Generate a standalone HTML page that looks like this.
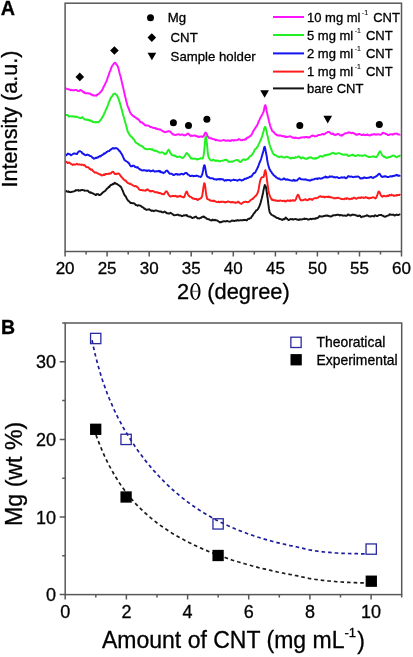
<!DOCTYPE html><html><head><meta charset="utf-8"><style>html,body{margin:0;padding:0;background:#fff;width:413px;height:657px;overflow:hidden}svg{display:block;filter:blur(0.3px)} text{stroke:#000;stroke-width:0.3px}</style></head><body><svg width="413" height="657" viewBox="0 0 413 657">
<rect width="413" height="657" fill="#fff"/>
<g font-family="Liberation Sans, sans-serif" fill="#000">
<text x="0.8" y="15" font-size="19.8" font-weight="bold">A</text>
<text x="1" y="334" font-size="19.5" font-weight="bold">B</text>
</g>
<path d="M65.6,190.6 66.2,191.1 66.8,191.6 67.4,191.6 68.0,191.8 68.6,191.3 69.2,192.1 69.8,192.0 70.4,192.1 71.0,192.2 71.6,191.9 72.2,191.7 72.8,191.6 73.4,191.5 74.0,191.3 74.6,191.0 75.2,190.9 75.8,190.1 76.4,190.4 77.0,190.3 77.6,190.3 78.2,190.1 78.8,190.7 79.4,190.4 80.0,190.4 80.6,190.5 81.2,189.9 81.8,190.0 82.4,189.9 83.0,190.2 83.6,190.4 84.2,190.3 84.8,190.8 85.4,190.6 86.0,190.6 86.6,190.6 87.2,190.8 87.8,190.7 88.4,191.4 89.0,192.1 89.6,192.1 90.2,192.8 90.8,192.3 91.4,192.8 92.0,193.0 92.6,193.3 93.2,193.5 93.8,193.9 94.4,194.3 95.0,194.4 95.6,194.9 96.2,194.9 96.8,194.1 97.4,194.3 98.0,194.1 98.6,194.3 99.2,195.1 99.8,195.0 100.4,194.8 101.0,194.4 101.6,193.4 102.2,193.3 102.8,192.4 103.4,192.1 104.0,191.6 104.6,191.3 105.2,190.9 105.8,190.1 106.4,189.5 107.0,188.6 107.6,188.2 108.2,187.8 108.8,186.8 109.4,187.0 110.0,185.8 110.6,185.0 111.2,185.0 111.8,184.8 112.4,184.1 113.0,183.8 113.6,184.2 114.2,183.3 114.8,182.8 115.4,183.1 116.0,183.8 116.6,183.8 117.2,184.1 117.8,184.6 118.4,185.0 119.0,185.3 119.6,185.6 120.2,186.5 120.8,186.7 121.4,187.6 122.0,189.1 122.6,190.4 123.2,192.0 123.8,193.5 124.4,194.8 125.0,195.8 125.6,196.1 126.2,197.4 126.8,198.7 127.4,199.6 128.0,200.3 128.6,201.1 129.2,201.4 129.8,202.0 130.4,202.9 131.0,202.9 131.6,202.9 132.2,203.1 132.8,203.3 133.4,203.3 134.0,203.3 134.6,203.6 135.2,204.3 135.8,205.0 136.4,205.0 137.0,205.3 137.6,205.8 138.2,205.2 138.8,205.3 139.4,205.4 140.0,205.6 140.6,205.9 141.2,206.2 141.8,206.9 142.4,207.1 143.0,207.4 143.6,207.8 144.2,208.8 144.8,208.6 145.4,209.3 146.0,209.7 146.6,209.9 147.2,209.7 147.8,209.5 148.4,209.5 149.0,209.3 149.6,209.4 150.2,210.3 150.8,210.2 151.4,210.9 152.0,210.6 152.6,210.5 153.2,210.9 153.8,211.2 154.4,210.7 155.0,210.6 155.6,210.4 156.2,210.5 156.8,210.7 157.4,210.9 158.0,211.1 158.6,211.2 159.2,211.5 159.8,211.5 160.4,211.4 161.0,211.4 161.6,212.1 162.2,212.3 162.8,212.2 163.4,212.3 164.0,212.0 164.6,211.6 165.2,211.8 165.8,212.5 166.4,212.7 167.0,213.3 167.6,213.4 168.2,213.3 168.8,213.5 169.4,213.6 170.0,213.1 170.6,212.8 171.2,213.3 171.8,213.6 172.4,214.0 173.0,214.5 173.6,215.1 174.2,215.2 174.8,215.2 175.4,215.1 176.0,215.0 176.6,214.8 177.2,214.8 177.8,214.8 178.4,214.8 179.0,215.4 179.6,215.4 180.2,215.3 180.8,215.6 181.4,215.6 182.0,216.2 182.6,216.0 183.2,215.7 183.8,215.3 184.4,215.3 185.0,215.5 185.6,215.2 186.2,215.4 186.8,215.0 187.4,215.9 188.0,216.4 188.6,216.5 189.2,216.5 189.8,216.8 190.4,216.6 191.0,217.0 191.6,217.6 192.2,218.1 192.8,218.0 193.4,217.7 194.0,217.5 194.6,217.3 195.2,216.8 195.8,216.5 196.4,217.2 197.0,217.6 197.6,218.2 198.2,218.3 198.8,218.4 199.4,218.5 200.0,218.2 200.6,217.7 201.2,217.7 201.8,217.1 202.4,216.8 203.0,216.9 203.6,216.4 204.2,216.6 204.8,217.5 205.4,217.6 206.0,218.1 206.6,218.6 207.2,219.1 207.8,219.1 208.4,219.3 209.0,219.2 209.6,219.8 210.2,220.2 210.8,220.2 211.4,220.3 212.0,220.5 212.6,219.5 213.2,220.0 213.8,220.2 214.4,220.3 215.0,219.8 215.6,220.2 216.2,220.3 216.8,220.4 217.4,220.6 218.0,221.0 218.6,221.5 219.2,221.8 219.8,222.4 220.4,222.1 221.0,222.3 221.6,221.8 222.2,221.8 222.8,221.5 223.4,221.3 224.0,221.2 224.6,221.3 225.2,221.4 225.8,221.4 226.4,221.1 227.0,220.9 227.6,221.2 228.2,221.4 228.8,221.5 229.4,221.6 230.0,221.7 230.6,221.4 231.2,221.0 231.8,220.6 232.4,220.8 233.0,220.5 233.6,220.9 234.2,221.1 234.8,220.8 235.4,220.8 236.0,220.4 236.6,220.7 237.2,220.4 237.8,220.1 238.4,220.6 239.0,220.6 239.6,220.4 240.2,220.3 240.8,220.3 241.4,220.2 242.0,220.2 242.6,220.1 243.2,220.2 243.8,219.9 244.4,219.8 245.0,220.1 245.6,220.0 246.2,220.1 246.8,220.4 247.4,219.6 248.0,219.1 248.6,218.7 249.2,218.9 249.8,218.6 250.4,218.1 251.0,218.0 251.6,216.8 252.2,215.9 252.8,215.4 253.4,214.1 254.0,213.4 254.6,212.8 255.2,211.9 255.8,210.9 256.4,210.3 257.0,210.1 257.6,209.4 258.2,208.6 258.8,207.6 259.4,206.2 260.0,204.7 260.6,202.8 261.2,200.5 261.8,198.3 262.4,195.7 263.0,193.0 263.6,189.7 264.2,187.1 264.8,185.0 265.4,185.8 266.0,187.4 266.6,191.0 267.2,195.5 267.8,199.3 268.4,204.5 269.0,208.9 269.6,211.8 270.2,213.2 270.8,213.7 271.4,214.6 272.0,215.0 272.6,215.3 273.2,215.5 273.8,215.9 274.4,216.5 275.0,216.5 275.6,217.0 276.2,217.7 276.8,217.9 277.4,217.9 278.0,218.1 278.6,218.1 279.2,219.0 279.8,219.0 280.4,219.0 281.0,219.3 281.6,219.5 282.2,219.9 282.8,219.5 283.4,219.0 284.0,219.5 284.6,219.2 285.2,218.2 285.8,217.5 286.4,218.3 287.0,218.6 287.6,219.4 288.2,219.7 288.8,220.1 289.4,219.8 290.0,219.3 290.6,219.0 291.2,219.1 291.8,219.3 292.4,219.0 293.0,219.7 293.6,219.4 294.2,219.3 294.8,219.1 295.4,219.0 296.0,219.1 296.6,219.6 297.2,219.4 297.8,219.5 298.4,219.9 299.0,219.7 299.6,219.9 300.2,219.3 300.8,219.4 301.4,219.5 302.0,219.5 302.6,219.1 303.2,219.1 303.8,219.0 304.4,218.4 305.0,218.9 305.6,218.9 306.2,218.8 306.8,218.9 307.4,219.3 308.0,219.5 308.6,219.4 309.2,219.4 309.8,219.1 310.4,218.8 311.0,218.9 311.6,219.3 312.2,218.9 312.8,218.8 313.4,218.7 314.0,218.8 314.6,218.8 315.2,218.9 315.8,218.3 316.4,218.4 317.0,218.0 317.6,218.0 318.2,217.5 318.8,216.8 319.4,216.1 320.0,216.6 320.6,216.5 321.2,216.5 321.8,216.4 322.4,216.4 323.0,216.4 323.6,216.0 324.2,216.1 324.8,215.8 325.4,215.5 326.0,215.8 326.6,215.5 327.2,215.8 327.8,215.4 328.4,215.9 329.0,216.2 329.6,216.1 330.2,216.4 330.8,216.6 331.4,216.3 332.0,216.2 332.6,215.4 333.2,215.3 333.8,215.4 334.4,215.2 335.0,215.2 335.6,215.3 336.2,214.9 336.8,215.0 337.4,214.6 338.0,214.6 338.6,214.9 339.2,214.9 339.8,215.4 340.4,214.9 341.0,215.1 341.6,215.2 342.2,215.3 342.8,215.6 343.4,215.7 344.0,215.5 344.6,215.4 345.2,215.8 345.8,215.7 346.4,215.8 347.0,215.5 347.6,214.8 348.2,214.4 348.8,214.7 349.4,215.3 350.0,215.4 350.6,215.6 351.2,215.2 351.8,215.0 352.4,214.6 353.0,214.7 353.6,214.9 354.2,214.8 354.8,214.9 355.4,215.1 356.0,215.6 356.6,215.4 357.2,215.8 357.8,216.1 358.4,216.0 359.0,215.4 359.6,215.8 360.2,215.7 360.8,216.9 361.4,217.2 362.0,216.8 362.6,216.5 363.2,216.5 363.8,216.5 364.4,216.3 365.0,216.0 365.6,215.9 366.2,215.8 366.8,215.2 367.4,215.4 368.0,215.6 368.6,216.2 369.2,216.2 369.8,216.5 370.4,216.3 371.0,216.6 371.6,216.1 372.2,216.0 372.8,216.1 373.4,216.2 374.0,216.5 374.6,215.5 375.2,215.3 375.8,215.6 376.4,216.1 377.0,215.9 377.6,216.0 378.2,215.6 378.8,215.1 379.4,215.1 380.0,215.0 380.6,215.1 381.2,214.9 381.8,215.3 382.4,215.7 383.0,215.8 383.6,216.3 384.2,216.4 384.8,216.8 385.4,216.8 386.0,216.4 386.6,216.0 387.2,215.9 387.8,215.7 388.4,215.4 389.0,215.3 389.6,214.2 390.2,214.4 390.8,214.7 391.4,214.8 392.0,214.7 392.6,214.7 393.2,214.6 393.8,215.1 394.4,215.6 395.0,215.5 395.6,215.2 396.2,214.7 396.8,214.6 397.4,214.9 398.0,215.1 398.6,214.8 399.2,214.6 399.8,214.3 400.4,214.1" fill="none" stroke="#141414" stroke-width="1.95" stroke-linejoin="round"/>
<path d="M65.6,161.6 66.2,161.6 66.8,162.3 67.4,162.9 68.0,162.9 68.6,162.6 69.2,162.4 69.8,162.9 70.4,163.5 71.0,163.9 71.6,164.3 72.2,164.5 72.8,164.9 73.4,164.5 74.0,164.5 74.6,164.5 75.2,164.7 75.8,164.4 76.4,164.2 77.0,163.7 77.6,164.3 78.2,164.5 78.8,164.6 79.4,164.3 80.0,164.6 80.6,164.6 81.2,164.9 81.8,164.6 82.4,164.7 83.0,164.8 83.6,165.2 84.2,165.1 84.8,165.6 85.4,166.1 86.0,166.8 86.6,167.1 87.2,167.3 87.8,167.0 88.4,167.5 89.0,167.8 89.6,169.0 90.2,168.9 90.8,169.7 91.4,169.7 92.0,169.5 92.6,170.6 93.2,171.2 93.8,171.5 94.4,172.5 95.0,172.5 95.6,172.7 96.2,172.5 96.8,172.9 97.4,173.3 98.0,173.5 98.6,173.8 99.2,174.2 99.8,174.3 100.4,174.8 101.0,174.5 101.6,175.5 102.2,175.3 102.8,175.3 103.4,175.1 104.0,174.4 104.6,174.9 105.2,174.0 105.8,174.2 106.4,174.0 107.0,174.2 107.6,174.0 108.2,173.7 108.8,174.0 109.4,173.4 110.0,173.7 110.6,173.3 111.2,173.2 111.8,172.3 112.4,171.9 113.0,171.8 113.6,172.3 114.2,173.1 114.8,174.0 115.4,174.0 116.0,174.2 116.6,173.8 117.2,173.8 117.8,173.7 118.4,173.4 119.0,173.8 119.6,174.4 120.2,175.3 120.8,176.2 121.4,176.8 122.0,177.5 122.6,178.0 123.2,179.0 123.8,179.7 124.4,179.9 125.0,180.5 125.6,180.5 126.2,181.2 126.8,182.3 127.4,182.4 128.0,183.1 128.6,183.3 129.2,183.4 129.8,183.9 130.4,183.8 131.0,184.3 131.6,184.4 132.2,185.0 132.8,185.3 133.4,185.6 134.0,185.9 134.6,186.2 135.2,186.1 135.8,185.9 136.4,186.5 137.0,187.0 137.6,187.2 138.2,188.0 138.8,189.1 139.4,189.6 140.0,190.0 140.6,190.0 141.2,190.0 141.8,190.1 142.4,190.4 143.0,190.3 143.6,190.3 144.2,190.6 144.8,190.6 145.4,190.7 146.0,190.0 146.6,190.3 147.2,189.3 147.8,189.5 148.4,190.2 149.0,190.4 149.6,191.0 150.2,191.4 150.8,190.9 151.4,191.3 152.0,191.0 152.6,191.0 153.2,191.2 153.8,191.4 154.4,191.9 155.0,192.2 155.6,192.3 156.2,192.2 156.8,192.5 157.4,192.2 158.0,192.6 158.6,193.1 159.2,193.2 159.8,192.9 160.4,193.2 161.0,193.5 161.6,193.7 162.2,194.2 162.8,194.0 163.4,194.3 164.0,194.3 164.6,193.2 165.2,192.3 165.8,191.5 166.4,191.3 167.0,191.6 167.6,192.7 168.2,194.0 168.8,195.1 169.4,195.6 170.0,196.5 170.6,196.4 171.2,196.4 171.8,196.2 172.4,195.7 173.0,196.1 173.6,196.0 174.2,195.9 174.8,196.3 175.4,195.8 176.0,196.0 176.6,196.5 177.2,196.9 177.8,196.2 178.4,196.3 179.0,196.5 179.6,196.2 180.2,195.7 180.8,196.5 181.4,196.5 182.0,196.8 182.6,197.0 183.2,197.3 183.8,197.4 184.4,196.6 185.0,195.0 185.6,193.3 186.2,192.0 186.8,191.5 187.4,192.8 188.0,194.3 188.6,195.7 189.2,195.8 189.8,196.8 190.4,196.9 191.0,197.0 191.6,197.7 192.2,197.7 192.8,198.6 193.4,198.6 194.0,198.5 194.6,199.0 195.2,198.9 195.8,199.0 196.4,198.8 197.0,199.6 197.6,200.0 198.2,199.9 198.8,199.0 199.4,199.0 200.0,198.6 200.6,198.3 201.2,197.9 201.8,196.9 202.4,194.7 203.0,190.7 203.6,186.1 204.2,183.2 204.8,183.8 205.4,187.9 206.0,193.1 206.6,196.6 207.2,199.0 207.8,199.0 208.4,199.5 209.0,199.7 209.6,199.8 210.2,200.6 210.8,200.7 211.4,200.7 212.0,200.7 212.6,201.0 213.2,201.2 213.8,200.6 214.4,201.1 215.0,201.2 215.6,201.5 216.2,201.9 216.8,202.1 217.4,202.0 218.0,202.0 218.6,201.6 219.2,202.2 219.8,202.2 220.4,202.0 221.0,201.7 221.6,201.9 222.2,201.7 222.8,201.8 223.4,201.8 224.0,202.1 224.6,202.0 225.2,202.5 225.8,202.3 226.4,201.9 227.0,201.9 227.6,201.4 228.2,201.5 228.8,201.7 229.4,202.0 230.0,202.2 230.6,202.3 231.2,202.1 231.8,202.4 232.4,202.0 233.0,202.1 233.6,202.4 234.2,202.6 234.8,202.2 235.4,202.9 236.0,202.6 236.6,202.6 237.2,202.5 237.8,201.7 238.4,201.8 239.0,202.3 239.6,203.0 240.2,203.3 240.8,203.7 241.4,204.0 242.0,203.2 242.6,202.8 243.2,202.5 243.8,201.9 244.4,202.1 245.0,201.9 245.6,201.6 246.2,201.8 246.8,202.0 247.4,202.2 248.0,202.2 248.6,201.9 249.2,201.4 249.8,200.9 250.4,200.3 251.0,199.9 251.6,199.5 252.2,199.0 252.8,199.0 253.4,197.9 254.0,197.7 254.6,196.7 255.2,196.3 255.8,195.9 256.4,194.9 257.0,194.3 257.6,192.8 258.2,191.5 258.8,188.4 259.4,184.6 260.0,181.4 260.6,179.6 261.2,178.1 261.8,177.4 262.4,177.1 263.0,177.1 263.6,177.0 264.2,174.8 264.8,171.4 265.4,170.1 266.0,172.8 266.6,176.9 267.2,181.6 267.8,186.2 268.4,190.4 269.0,193.2 269.6,195.1 270.2,196.6 270.8,197.9 271.4,199.1 272.0,199.9 272.6,199.5 273.2,200.2 273.8,200.1 274.4,200.2 275.0,200.5 275.6,200.7 276.2,200.4 276.8,200.5 277.4,201.1 278.0,201.0 278.6,200.7 279.2,200.9 279.8,200.6 280.4,200.5 281.0,200.7 281.6,200.9 282.2,201.0 282.8,201.0 283.4,200.8 284.0,200.8 284.6,200.8 285.2,201.6 285.8,201.4 286.4,200.9 287.0,200.5 287.6,200.5 288.2,200.5 288.8,200.8 289.4,200.5 290.0,201.1 290.6,200.3 291.2,200.6 291.8,200.8 292.4,200.5 293.0,200.0 293.6,200.5 294.2,200.8 294.8,200.6 295.4,199.8 296.0,199.3 296.6,197.1 297.2,195.9 297.8,194.7 298.4,195.0 299.0,196.3 299.6,198.2 300.2,199.3 300.8,200.2 301.4,200.5 302.0,200.2 302.6,200.3 303.2,200.3 303.8,199.9 304.4,199.6 305.0,199.3 305.6,199.2 306.2,199.9 306.8,200.3 307.4,200.2 308.0,200.0 308.6,199.5 309.2,198.8 309.8,199.4 310.4,199.3 311.0,199.0 311.6,199.5 312.2,199.9 312.8,199.2 313.4,198.8 314.0,198.5 314.6,198.2 315.2,198.1 315.8,198.1 316.4,198.3 317.0,198.0 317.6,197.8 318.2,197.5 318.8,196.9 319.4,196.7 320.0,196.3 320.6,196.2 321.2,196.9 321.8,196.7 322.4,196.9 323.0,196.7 323.6,196.6 324.2,197.3 324.8,196.7 325.4,197.2 326.0,196.9 326.6,196.8 327.2,196.9 327.8,196.9 328.4,196.5 329.0,197.2 329.6,196.7 330.2,197.3 330.8,197.2 331.4,197.2 332.0,197.6 332.6,197.6 333.2,198.0 333.8,198.3 334.4,198.3 335.0,198.1 335.6,198.2 336.2,197.9 336.8,198.2 337.4,197.8 338.0,197.7 338.6,198.0 339.2,198.1 339.8,198.4 340.4,198.6 341.0,198.9 341.6,199.0 342.2,199.0 342.8,199.1 343.4,199.1 344.0,199.2 344.6,198.6 345.2,198.7 345.8,198.5 346.4,198.9 347.0,198.1 347.6,198.5 348.2,198.6 348.8,198.6 349.4,199.2 350.0,199.2 350.6,198.9 351.2,198.6 351.8,198.9 352.4,198.4 353.0,198.4 353.6,197.7 354.2,197.7 354.8,197.8 355.4,198.6 356.0,198.6 356.6,198.7 357.2,198.3 357.8,197.8 358.4,197.6 359.0,197.7 359.6,197.9 360.2,197.5 360.8,198.0 361.4,197.3 362.0,197.4 362.6,197.5 363.2,197.4 363.8,198.0 364.4,197.8 365.0,197.6 365.6,197.1 366.2,197.3 366.8,197.5 367.4,198.1 368.0,197.8 368.6,198.4 369.2,198.5 369.8,198.1 370.4,197.8 371.0,198.0 371.6,197.6 372.2,197.5 372.8,197.3 373.4,197.4 374.0,197.5 374.6,197.6 375.2,198.5 375.8,198.1 376.4,197.5 377.0,195.7 377.6,194.3 378.2,192.2 378.8,191.5 379.4,192.0 380.0,193.1 380.6,194.7 381.2,195.8 381.8,196.1 382.4,196.7 383.0,196.1 383.6,195.8 384.2,195.8 384.8,196.1 385.4,196.3 386.0,196.3 386.6,196.2 387.2,195.6 387.8,196.0 388.4,196.0 389.0,195.3 389.6,194.9 390.2,195.4 390.8,195.3 391.4,194.6 392.0,195.3 392.6,195.1 393.2,195.1 393.8,195.9 394.4,195.8 395.0,195.5 395.6,195.4 396.2,195.7 396.8,195.0 397.4,195.3 398.0,194.8 398.6,195.1 399.2,194.9 399.8,194.7 400.4,195.2" fill="none" stroke="#ff1c1c" stroke-width="1.95" stroke-linejoin="round"/>
<path d="M65.6,155.2 66.2,155.3 66.8,154.8 67.4,154.0 68.0,153.6 68.6,153.9 69.2,154.3 69.8,154.2 70.4,154.8 71.0,155.3 71.6,154.8 72.2,154.5 72.8,154.1 73.4,153.7 74.0,153.5 74.6,153.4 75.2,153.8 75.8,153.7 76.4,154.0 77.0,154.0 77.6,152.9 78.2,152.0 78.8,151.6 79.4,151.1 80.0,151.1 80.6,151.5 81.2,151.8 81.8,152.4 82.4,153.5 83.0,153.5 83.6,154.2 84.2,154.3 84.8,154.9 85.4,155.2 86.0,155.2 86.6,155.0 87.2,154.5 87.8,154.8 88.4,154.9 89.0,155.3 89.6,155.9 90.2,156.0 90.8,156.2 91.4,156.5 92.0,157.0 92.6,157.8 93.2,158.0 93.8,158.7 94.4,158.6 95.0,158.3 95.6,157.8 96.2,157.9 96.8,157.9 97.4,157.2 98.0,157.4 98.6,157.0 99.2,156.4 99.8,156.1 100.4,156.4 101.0,155.9 101.6,155.2 102.2,155.1 102.8,154.7 103.4,154.2 104.0,153.4 104.6,153.7 105.2,153.2 105.8,152.9 106.4,152.2 107.0,151.9 107.6,151.4 108.2,151.1 108.8,151.1 109.4,150.8 110.0,150.0 110.6,149.9 111.2,149.3 111.8,148.7 112.4,148.6 113.0,148.0 113.6,148.5 114.2,148.3 114.8,148.5 115.4,148.1 116.0,148.0 116.6,148.4 117.2,148.6 117.8,149.1 118.4,149.7 119.0,150.6 119.6,150.9 120.2,151.8 120.8,152.9 121.4,153.6 122.0,154.6 122.6,155.8 123.2,157.2 123.8,158.5 124.4,159.9 125.0,160.3 125.6,160.8 126.2,161.1 126.8,161.5 127.4,161.8 128.0,162.5 128.6,162.7 129.2,163.7 129.8,164.8 130.4,165.8 131.0,166.4 131.6,166.2 132.2,166.2 132.8,165.6 133.4,165.8 134.0,165.8 134.6,166.3 135.2,167.1 135.8,167.1 136.4,167.6 137.0,167.2 137.6,167.1 138.2,167.9 138.8,168.6 139.4,168.8 140.0,169.5 140.6,169.4 141.2,169.9 141.8,170.4 142.4,170.5 143.0,170.5 143.6,170.1 144.2,170.2 144.8,170.3 145.4,170.5 146.0,170.7 146.6,170.5 147.2,171.0 147.8,170.5 148.4,170.4 149.0,170.7 149.6,170.4 150.2,171.2 150.8,171.4 151.4,171.2 152.0,171.0 152.6,170.6 153.2,170.3 153.8,171.0 154.4,171.5 155.0,171.7 155.6,171.4 156.2,171.2 156.8,171.4 157.4,171.2 158.0,171.1 158.6,170.9 159.2,171.7 159.8,170.8 160.4,171.5 161.0,172.3 161.6,172.1 162.2,172.4 162.8,172.4 163.4,173.1 164.0,172.6 164.6,172.6 165.2,171.9 165.8,171.0 166.4,170.9 167.0,170.4 167.6,171.0 168.2,171.9 168.8,172.7 169.4,173.5 170.0,173.8 170.6,173.6 171.2,173.6 171.8,173.8 172.4,174.2 173.0,174.9 173.6,174.9 174.2,174.9 174.8,174.5 175.4,174.1 176.0,174.3 176.6,174.0 177.2,174.2 177.8,174.7 178.4,174.4 179.0,174.7 179.6,174.4 180.2,174.4 180.8,173.9 181.4,173.9 182.0,173.8 182.6,174.1 183.2,174.5 183.8,174.1 184.4,173.8 185.0,173.1 185.6,172.9 186.2,172.9 186.8,173.1 187.4,174.0 188.0,174.7 188.6,174.9 189.2,175.1 189.8,175.9 190.4,175.9 191.0,176.0 191.6,175.8 192.2,175.7 192.8,175.8 193.4,176.3 194.0,176.0 194.6,175.9 195.2,176.0 195.8,176.0 196.4,175.5 197.0,175.8 197.6,175.9 198.2,176.1 198.8,176.6 199.4,176.6 200.0,176.6 200.6,177.0 201.2,176.6 201.8,175.3 202.4,173.9 203.0,170.9 203.6,167.4 204.2,165.2 204.8,165.6 205.4,168.8 206.0,172.5 206.6,175.3 207.2,176.5 207.8,176.9 208.4,177.4 209.0,177.3 209.6,177.9 210.2,178.3 210.8,178.4 211.4,178.3 212.0,178.2 212.6,178.5 213.2,178.5 213.8,179.2 214.4,179.3 215.0,179.2 215.6,179.5 216.2,179.3 216.8,179.7 217.4,179.3 218.0,179.2 218.6,179.1 219.2,179.4 219.8,179.1 220.4,179.4 221.0,179.0 221.6,179.3 222.2,179.3 222.8,179.2 223.4,179.9 224.0,180.1 224.6,180.7 225.2,180.4 225.8,180.0 226.4,180.5 227.0,180.1 227.6,180.0 228.2,180.1 228.8,180.0 229.4,180.3 230.0,180.1 230.6,180.7 231.2,180.6 231.8,180.2 232.4,180.1 233.0,180.0 233.6,179.6 234.2,179.9 234.8,179.9 235.4,179.9 236.0,180.2 236.6,180.5 237.2,180.7 237.8,180.6 238.4,180.0 239.0,179.9 239.6,179.5 240.2,179.9 240.8,180.0 241.4,180.6 242.0,180.3 242.6,180.2 243.2,180.0 243.8,179.6 244.4,178.8 245.0,178.8 245.6,178.8 246.2,178.7 246.8,178.2 247.4,178.1 248.0,177.7 248.6,177.7 249.2,177.3 249.8,176.9 250.4,176.6 251.0,176.8 251.6,176.4 252.2,175.3 252.8,174.5 253.4,173.6 254.0,173.0 254.6,173.0 255.2,172.3 255.8,171.5 256.4,170.0 257.0,169.2 257.6,167.7 258.2,166.5 258.8,164.7 259.4,163.1 260.0,161.6 260.6,160.5 261.2,158.7 261.8,156.6 262.4,154.4 263.0,152.4 263.6,150.2 264.2,147.3 264.8,146.9 265.4,149.4 266.0,152.8 266.6,155.7 267.2,159.8 267.8,163.2 268.4,165.6 269.0,167.5 269.6,169.4 270.2,170.2 270.8,171.4 271.4,171.8 272.0,173.2 272.6,173.7 273.2,174.4 273.8,175.4 274.4,175.6 275.0,176.3 275.6,176.5 276.2,177.5 276.8,177.7 277.4,178.0 278.0,178.6 278.6,178.8 279.2,178.4 279.8,178.9 280.4,179.5 281.0,179.6 281.6,179.6 282.2,179.5 282.8,179.5 283.4,178.7 284.0,178.3 284.6,179.0 285.2,179.2 285.8,179.8 286.4,179.5 287.0,179.3 287.6,179.4 288.2,179.9 288.8,179.8 289.4,180.0 290.0,180.3 290.6,180.4 291.2,180.5 291.8,180.6 292.4,180.7 293.0,180.5 293.6,179.7 294.2,180.6 294.8,180.2 295.4,180.7 296.0,180.4 296.6,180.6 297.2,180.3 297.8,179.6 298.4,179.0 299.0,178.4 299.6,178.1 300.2,178.6 300.8,179.2 301.4,179.4 302.0,179.3 302.6,179.4 303.2,179.6 303.8,179.5 304.4,179.4 305.0,179.7 305.6,179.3 306.2,179.6 306.8,179.7 307.4,180.2 308.0,180.4 308.6,180.2 309.2,180.5 309.8,180.2 310.4,180.6 311.0,180.2 311.6,179.6 312.2,179.8 312.8,179.5 313.4,179.5 314.0,179.4 314.6,178.9 315.2,178.7 315.8,178.8 316.4,178.7 317.0,178.5 317.6,179.1 318.2,178.5 318.8,178.3 319.4,178.2 320.0,178.5 320.6,178.7 321.2,178.6 321.8,178.5 322.4,177.9 323.0,177.9 323.6,177.5 324.2,177.3 324.8,177.1 325.4,176.5 326.0,177.6 326.6,176.9 327.2,177.3 327.8,177.5 328.4,177.4 329.0,177.1 329.6,176.3 330.2,176.5 330.8,176.8 331.4,176.5 332.0,176.6 332.6,176.5 333.2,177.2 333.8,177.2 334.4,177.1 335.0,177.4 335.6,177.4 336.2,177.1 336.8,177.2 337.4,177.2 338.0,177.5 338.6,178.0 339.2,178.0 339.8,177.9 340.4,177.8 341.0,177.5 341.6,177.3 342.2,177.7 342.8,177.4 343.4,177.4 344.0,177.4 344.6,177.2 345.2,177.9 345.8,178.3 346.4,178.1 347.0,177.7 347.6,176.8 348.2,176.1 348.8,176.5 349.4,176.4 350.0,176.8 350.6,176.7 351.2,176.5 351.8,176.6 352.4,177.0 353.0,177.2 353.6,177.1 354.2,177.0 354.8,176.7 355.4,176.6 356.0,176.7 356.6,176.6 357.2,176.7 357.8,176.5 358.4,176.6 359.0,177.0 359.6,177.6 360.2,178.3 360.8,178.6 361.4,178.2 362.0,178.1 362.6,178.4 363.2,178.1 363.8,177.4 364.4,177.7 365.0,177.5 365.6,177.9 366.2,177.9 366.8,178.0 367.4,177.9 368.0,177.7 368.6,177.8 369.2,177.5 369.8,177.5 370.4,177.0 371.0,176.8 371.6,177.3 372.2,177.6 372.8,177.9 373.4,177.9 374.0,177.2 374.6,177.1 375.2,176.9 375.8,176.7 376.4,175.9 377.0,175.9 377.6,175.3 378.2,174.4 378.8,173.9 379.4,173.8 380.0,174.1 380.6,175.3 381.2,176.3 381.8,176.8 382.4,176.9 383.0,176.6 383.6,176.7 384.2,176.3 384.8,176.3 385.4,176.6 386.0,176.3 386.6,176.7 387.2,177.1 387.8,177.0 388.4,176.9 389.0,176.9 389.6,176.7 390.2,176.1 390.8,176.1 391.4,176.6 392.0,176.5 392.6,175.9 393.2,175.9 393.8,175.9 394.4,175.6 395.0,175.7 395.6,175.3 396.2,175.2 396.8,174.7 397.4,175.2 398.0,175.8 398.6,175.5 399.2,175.8 399.8,175.6 400.4,175.2" fill="none" stroke="#1414f0" stroke-width="1.95" stroke-linejoin="round"/>
<path d="M65.6,115.1 66.2,115.0 66.8,114.9 67.4,114.9 68.0,115.7 68.6,116.2 69.2,116.6 69.8,116.2 70.4,116.2 71.0,116.4 71.6,116.3 72.2,116.5 72.8,116.3 73.4,116.2 74.0,116.7 74.6,117.0 75.2,116.7 75.8,116.8 76.4,116.5 77.0,117.0 77.6,117.2 78.2,117.5 78.8,117.6 79.4,117.8 80.0,117.9 80.6,118.2 81.2,118.0 81.8,117.5 82.4,117.1 83.0,117.9 83.6,118.6 84.2,118.9 84.8,119.6 85.4,119.4 86.0,119.4 86.6,119.7 87.2,120.1 87.8,119.6 88.4,119.7 89.0,120.5 89.6,120.2 90.2,120.9 90.8,120.8 91.4,120.7 92.0,121.1 92.6,122.1 93.2,121.7 93.8,122.1 94.4,122.2 95.0,122.2 95.6,122.0 96.2,122.5 96.8,122.2 97.4,121.9 98.0,122.1 98.6,122.2 99.2,121.9 99.8,120.8 100.4,120.2 101.0,119.4 101.6,118.5 102.2,117.6 102.8,116.2 103.4,115.7 104.0,114.0 104.6,112.8 105.2,111.6 105.8,109.8 106.4,108.5 107.0,107.7 107.6,106.0 108.2,104.2 108.8,102.3 109.4,101.4 110.0,99.6 110.6,98.2 111.2,97.5 111.8,96.5 112.4,95.9 113.0,94.8 113.6,93.9 114.2,93.8 114.8,93.6 115.4,94.1 116.0,94.6 116.6,94.9 117.2,95.8 117.8,97.1 118.4,98.6 119.0,100.1 119.6,102.1 120.2,104.1 120.8,106.3 121.4,108.4 122.0,110.4 122.6,112.9 123.2,115.3 123.8,117.3 124.4,119.4 125.0,121.5 125.6,123.6 126.2,125.8 126.8,128.1 127.4,130.6 128.0,132.1 128.6,133.0 129.2,134.0 129.8,135.3 130.4,135.9 131.0,136.3 131.6,137.2 132.2,137.3 132.8,138.2 133.4,139.1 134.0,139.4 134.6,140.5 135.2,141.7 135.8,142.6 136.4,142.8 137.0,143.3 137.6,143.8 138.2,143.9 138.8,144.3 139.4,145.1 140.0,145.4 140.6,145.8 141.2,145.7 141.8,145.7 142.4,146.7 143.0,146.8 143.6,147.7 144.2,148.4 144.8,148.8 145.4,148.8 146.0,149.1 146.6,149.2 147.2,149.1 147.8,149.3 148.4,149.1 149.0,148.9 149.6,148.9 150.2,148.9 150.8,149.4 151.4,149.6 152.0,149.0 152.6,149.8 153.2,150.1 153.8,150.1 154.4,150.9 155.0,150.7 155.6,150.7 156.2,150.7 156.8,151.2 157.4,151.5 158.0,151.6 158.6,152.2 159.2,152.4 159.8,152.8 160.4,152.6 161.0,152.6 161.6,152.2 162.2,152.3 162.8,152.6 163.4,152.8 164.0,153.4 164.6,154.2 165.2,153.6 165.8,154.1 166.4,153.6 167.0,152.5 167.6,150.9 168.2,150.0 168.8,149.7 169.4,150.6 170.0,152.2 170.6,153.4 171.2,153.8 171.8,155.0 172.4,155.2 173.0,155.4 173.6,155.8 174.2,155.6 174.8,155.3 175.4,156.2 176.0,156.2 176.6,156.8 177.2,157.0 177.8,157.0 178.4,156.8 179.0,156.5 179.6,156.5 180.2,156.8 180.8,157.3 181.4,157.7 182.0,157.8 182.6,157.7 183.2,157.8 183.8,157.1 184.4,156.5 185.0,155.5 185.6,154.5 186.2,153.3 186.8,153.0 187.4,153.5 188.0,154.4 188.6,154.9 189.2,155.8 189.8,156.8 190.4,157.4 191.0,158.5 191.6,158.3 192.2,158.4 192.8,158.7 193.4,158.8 194.0,158.6 194.6,158.7 195.2,158.5 195.8,158.8 196.4,159.4 197.0,159.0 197.6,159.5 198.2,159.2 198.8,158.9 199.4,158.7 200.0,158.7 200.6,158.2 201.2,158.4 201.8,158.5 202.4,158.7 203.0,157.7 203.6,155.5 204.2,150.8 204.8,144.2 205.4,137.6 206.0,136.1 206.6,140.4 207.2,146.6 207.8,153.1 208.4,156.6 209.0,158.1 209.6,159.1 210.2,159.6 210.8,160.3 211.4,160.5 212.0,160.6 212.6,160.0 213.2,159.7 213.8,159.7 214.4,160.2 215.0,160.8 215.6,160.4 216.2,160.9 216.8,160.4 217.4,160.4 218.0,160.6 218.6,161.1 219.2,161.3 219.8,161.3 220.4,161.1 221.0,160.8 221.6,160.6 222.2,160.6 222.8,160.7 223.4,160.5 224.0,160.4 224.6,160.0 225.2,160.1 225.8,159.6 226.4,160.1 227.0,159.9 227.6,160.8 228.2,161.6 228.8,161.4 229.4,162.0 230.0,161.9 230.6,161.6 231.2,161.4 231.8,161.7 232.4,161.8 233.0,161.5 233.6,160.9 234.2,160.8 234.8,160.6 235.4,160.6 236.0,160.1 236.6,160.0 237.2,160.2 237.8,160.1 238.4,160.6 239.0,161.2 239.6,161.3 240.2,162.0 240.8,161.8 241.4,161.5 242.0,160.5 242.6,159.9 243.2,159.6 243.8,159.3 244.4,159.7 245.0,159.6 245.6,160.0 246.2,159.7 246.8,159.4 247.4,158.8 248.0,158.7 248.6,158.2 249.2,157.4 249.8,156.2 250.4,156.2 251.0,155.8 251.6,155.0 252.2,154.3 252.8,153.7 253.4,152.8 254.0,151.3 254.6,149.9 255.2,149.3 255.8,148.6 256.4,148.6 257.0,147.1 257.6,146.8 258.2,145.4 258.8,143.9 259.4,142.9 260.0,141.4 260.6,140.3 261.2,138.7 261.8,137.3 262.4,135.3 263.0,133.1 263.6,131.2 264.2,128.6 264.8,127.0 265.4,127.0 266.0,129.0 266.6,132.1 267.2,134.6 267.8,136.8 268.4,139.9 269.0,142.3 269.6,144.7 270.2,146.6 270.8,148.1 271.4,149.7 272.0,151.1 272.6,152.5 273.2,153.5 273.8,154.4 274.4,154.8 275.0,155.3 275.6,155.1 276.2,155.5 276.8,155.8 277.4,156.6 278.0,156.6 278.6,156.7 279.2,157.3 279.8,156.7 280.4,156.7 281.0,156.5 281.6,156.5 282.2,157.1 282.8,157.2 283.4,157.2 284.0,157.5 284.6,157.5 285.2,157.5 285.8,156.9 286.4,156.6 287.0,156.6 287.6,156.9 288.2,157.4 288.8,157.4 289.4,157.6 290.0,157.9 290.6,158.6 291.2,158.5 291.8,157.7 292.4,158.0 293.0,157.8 293.6,157.8 294.2,158.1 294.8,157.8 295.4,157.1 296.0,157.5 296.6,157.4 297.2,157.2 297.8,157.0 298.4,156.2 299.0,156.7 299.6,156.7 300.2,157.7 300.8,158.1 301.4,158.5 302.0,157.6 302.6,157.2 303.2,157.7 303.8,157.7 304.4,158.6 305.0,158.4 305.6,158.4 306.2,158.9 306.8,158.5 307.4,158.5 308.0,157.8 308.6,158.2 309.2,157.5 309.8,157.7 310.4,157.3 311.0,157.3 311.6,157.7 312.2,158.1 312.8,158.6 313.4,158.4 314.0,158.4 314.6,158.2 315.2,158.7 315.8,158.0 316.4,158.4 317.0,158.0 317.6,157.9 318.2,157.4 318.8,157.3 319.4,156.4 320.0,156.1 320.6,156.2 321.2,156.1 321.8,156.6 322.4,156.7 323.0,156.2 323.6,156.2 324.2,155.4 324.8,155.1 325.4,155.0 326.0,155.4 326.6,155.0 327.2,154.7 327.8,154.6 328.4,154.8 329.0,154.2 329.6,154.5 330.2,154.4 330.8,153.6 331.4,153.3 332.0,153.1 332.6,152.9 333.2,152.7 333.8,153.2 334.4,153.4 335.0,154.0 335.6,153.7 336.2,153.8 336.8,153.7 337.4,153.3 338.0,153.2 338.6,153.1 339.2,153.1 339.8,153.3 340.4,153.9 341.0,154.0 341.6,154.2 342.2,154.5 342.8,154.7 343.4,154.8 344.0,154.4 344.6,154.7 345.2,154.8 345.8,154.7 346.4,154.4 347.0,154.4 347.6,155.5 348.2,155.9 348.8,155.9 349.4,155.4 350.0,155.7 350.6,155.4 351.2,155.1 351.8,155.0 352.4,154.6 353.0,155.2 353.6,154.9 354.2,155.7 354.8,156.0 355.4,156.0 356.0,156.2 356.6,155.5 357.2,155.4 357.8,155.2 358.4,155.1 359.0,155.2 359.6,155.7 360.2,155.6 360.8,155.5 361.4,155.5 362.0,155.6 362.6,156.1 363.2,155.6 363.8,155.4 364.4,155.2 365.0,155.2 365.6,155.4 366.2,156.0 366.8,156.2 367.4,156.3 368.0,156.6 368.6,157.0 369.2,157.1 369.8,156.9 370.4,157.0 371.0,156.8 371.6,156.6 372.2,156.6 372.8,156.4 373.4,156.8 374.0,156.4 374.6,156.8 375.2,157.0 375.8,157.1 376.4,157.1 377.0,156.3 377.6,155.3 378.2,154.4 378.8,153.0 379.4,152.0 380.0,151.3 380.6,152.0 381.2,153.1 381.8,154.4 382.4,155.4 383.0,156.0 383.6,156.3 384.2,157.0 384.8,156.5 385.4,157.1 386.0,157.7 386.6,157.8 387.2,157.9 387.8,157.6 388.4,157.1 389.0,157.2 389.6,156.8 390.2,157.0 390.8,156.8 391.4,156.2 392.0,156.1 392.6,155.7 393.2,155.4 393.8,155.7 394.4,155.7 395.0,156.1 395.6,156.7 396.2,157.1 396.8,157.3 397.4,156.7 398.0,156.4 398.6,156.3 399.2,156.3 399.8,155.6 400.4,156.1" fill="none" stroke="#22f022" stroke-width="1.95" stroke-linejoin="round"/>
<path d="M65.6,88.5 66.2,88.5 66.8,88.9 67.4,89.1 68.0,89.3 68.6,89.2 69.2,89.5 69.8,89.7 70.4,90.3 71.0,90.1 71.6,89.7 72.2,90.1 72.8,90.3 73.4,90.2 74.0,90.3 74.6,90.3 75.2,90.0 75.8,89.9 76.4,90.0 77.0,90.4 77.6,90.8 78.2,91.1 78.8,90.9 79.4,90.9 80.0,90.2 80.6,90.0 81.2,90.7 81.8,90.9 82.4,91.2 83.0,92.0 83.6,92.5 84.2,92.1 84.8,92.9 85.4,93.3 86.0,93.3 86.6,93.2 87.2,93.2 87.8,93.1 88.4,93.6 89.0,93.6 89.6,93.4 90.2,93.7 90.8,94.2 91.4,94.7 92.0,94.7 92.6,94.9 93.2,95.5 93.8,95.3 94.4,95.5 95.0,95.4 95.6,95.4 96.2,95.7 96.8,94.7 97.4,94.7 98.0,94.1 98.6,94.0 99.2,93.6 99.8,92.8 100.4,92.3 101.0,91.6 101.6,90.7 102.2,90.0 102.8,88.6 103.4,87.3 104.0,86.2 104.6,85.1 105.2,84.0 105.8,82.4 106.4,81.4 107.0,79.8 107.6,77.9 108.2,76.3 108.8,74.9 109.4,72.6 110.0,71.3 110.6,70.0 111.2,68.0 111.8,66.6 112.4,65.5 113.0,64.9 113.6,64.0 114.2,63.2 114.8,62.8 115.4,63.0 116.0,64.1 116.6,64.6 117.2,65.4 117.8,66.5 118.4,68.3 119.0,70.6 119.6,73.2 120.2,75.2 120.8,77.5 121.4,80.1 122.0,82.8 122.6,85.3 123.2,87.8 123.8,90.4 124.4,93.2 125.0,96.1 125.6,98.0 126.2,101.0 126.8,102.9 127.4,105.5 128.0,107.0 128.6,108.1 129.2,109.9 129.8,111.8 130.4,112.8 131.0,114.1 131.6,114.6 132.2,114.8 132.8,115.9 133.4,116.2 134.0,116.3 134.6,117.0 135.2,117.2 135.8,117.5 136.4,118.3 137.0,118.5 137.6,119.2 138.2,119.1 138.8,119.9 139.4,120.5 140.0,121.8 140.6,121.9 141.2,122.4 141.8,122.3 142.4,122.8 143.0,123.6 143.6,123.5 144.2,124.4 144.8,125.2 145.4,125.3 146.0,125.5 146.6,125.3 147.2,125.6 147.8,125.5 148.4,125.6 149.0,125.8 149.6,126.5 150.2,126.9 150.8,127.3 151.4,126.9 152.0,127.3 152.6,127.7 153.2,128.0 153.8,128.0 154.4,128.1 155.0,127.9 155.6,128.8 156.2,128.2 156.8,128.8 157.4,129.0 158.0,129.2 158.6,129.3 159.2,129.5 159.8,129.2 160.4,129.6 161.0,129.9 161.6,130.4 162.2,130.8 162.8,131.2 163.4,131.2 164.0,132.0 164.6,132.1 165.2,132.2 165.8,132.0 166.4,131.6 167.0,131.7 167.6,131.5 168.2,131.5 168.8,131.1 169.4,131.3 170.0,131.5 170.6,131.9 171.2,132.8 171.8,133.4 172.4,133.7 173.0,134.6 173.6,134.3 174.2,134.8 174.8,134.9 175.4,135.1 176.0,134.8 176.6,134.8 177.2,134.4 177.8,134.4 178.4,134.3 179.0,134.3 179.6,134.8 180.2,134.8 180.8,134.9 181.4,134.7 182.0,134.5 182.6,134.5 183.2,135.0 183.8,135.3 184.4,135.1 185.0,135.4 185.6,135.3 186.2,134.8 186.8,134.1 187.4,133.8 188.0,133.5 188.6,133.9 189.2,134.8 189.8,135.2 190.4,135.9 191.0,135.5 191.6,135.4 192.2,136.0 192.8,135.9 193.4,135.6 194.0,135.4 194.6,135.8 195.2,135.6 195.8,136.1 196.4,135.9 197.0,136.5 197.6,136.3 198.2,136.8 198.8,137.1 199.4,136.6 200.0,136.7 200.6,136.4 201.2,136.4 201.8,136.4 202.4,136.9 203.0,136.5 203.6,136.3 204.2,134.6 204.8,133.3 205.4,132.5 206.0,132.9 206.6,134.1 207.2,135.1 207.8,136.3 208.4,137.0 209.0,138.0 209.6,138.1 210.2,138.2 210.8,138.5 211.4,138.2 212.0,138.5 212.6,139.1 213.2,139.1 213.8,139.3 214.4,139.3 215.0,139.9 215.6,140.3 216.2,139.8 216.8,140.2 217.4,140.2 218.0,140.4 218.6,140.4 219.2,140.5 219.8,140.5 220.4,140.8 221.0,140.6 221.6,140.6 222.2,140.4 222.8,140.3 223.4,140.0 224.0,140.1 224.6,140.6 225.2,140.5 225.8,140.7 226.4,140.9 227.0,140.6 227.6,140.4 228.2,140.5 228.8,140.3 229.4,140.9 230.0,141.1 230.6,140.8 231.2,140.2 231.8,140.4 232.4,140.1 233.0,140.3 233.6,140.5 234.2,140.1 234.8,140.5 235.4,140.2 236.0,140.3 236.6,140.1 237.2,140.1 237.8,139.8 238.4,139.1 239.0,139.4 239.6,139.3 240.2,139.9 240.8,140.3 241.4,140.3 242.0,140.2 242.6,139.7 243.2,139.8 243.8,139.8 244.4,139.9 245.0,139.6 245.6,138.7 246.2,139.1 246.8,137.9 247.4,137.5 248.0,137.5 248.6,137.3 249.2,136.9 249.8,136.2 250.4,136.1 251.0,135.2 251.6,134.8 252.2,133.8 252.8,132.1 253.4,131.1 254.0,130.0 254.6,129.2 255.2,128.1 255.8,127.3 256.4,126.2 257.0,125.5 257.6,124.5 258.2,122.5 258.8,121.3 259.4,120.1 260.0,118.7 260.6,117.3 261.2,116.5 261.8,115.3 262.4,114.2 263.0,112.8 263.6,111.9 264.2,108.7 264.8,105.7 265.4,105.1 266.0,107.2 266.6,111.0 267.2,113.4 267.8,116.2 268.4,118.3 269.0,121.3 269.6,123.6 270.2,125.8 270.8,127.8 271.4,128.8 272.0,130.4 272.6,131.4 273.2,131.5 273.8,132.4 274.4,132.7 275.0,133.6 275.6,134.3 276.2,134.2 276.8,135.3 277.4,135.3 278.0,135.3 278.6,135.5 279.2,135.7 279.8,135.2 280.4,135.6 281.0,135.5 281.6,136.2 282.2,136.1 282.8,136.0 283.4,136.4 284.0,136.1 284.6,136.5 285.2,137.0 285.8,136.6 286.4,137.1 287.0,137.1 287.6,136.9 288.2,136.7 288.8,136.6 289.4,136.4 290.0,136.3 290.6,136.5 291.2,136.7 291.8,137.3 292.4,137.5 293.0,137.8 293.6,137.5 294.2,138.2 294.8,138.0 295.4,137.5 296.0,137.7 296.6,137.8 297.2,138.0 297.8,138.2 298.4,138.3 299.0,138.3 299.6,138.1 300.2,137.6 300.8,137.7 301.4,137.6 302.0,137.2 302.6,137.3 303.2,137.4 303.8,137.3 304.4,137.6 305.0,136.9 305.6,137.2 306.2,136.9 306.8,137.0 307.4,137.4 308.0,137.2 308.6,137.6 309.2,137.2 309.8,137.3 310.4,136.7 311.0,136.3 311.6,135.8 312.2,135.5 312.8,135.9 313.4,135.6 314.0,135.8 314.6,136.4 315.2,136.4 315.8,136.3 316.4,136.0 317.0,136.1 317.6,135.2 318.2,135.1 318.8,134.9 319.4,135.1 320.0,134.9 320.6,134.8 321.2,134.6 321.8,134.2 322.4,134.0 323.0,134.0 323.6,134.6 324.2,134.2 324.8,133.9 325.4,133.4 326.0,133.0 326.6,132.7 327.2,132.5 327.8,131.9 328.4,132.1 329.0,131.9 329.6,132.3 330.2,132.8 330.8,133.5 331.4,133.8 332.0,134.1 332.6,133.4 333.2,133.7 333.8,134.6 334.4,134.5 335.0,135.0 335.6,135.2 336.2,134.5 336.8,134.5 337.4,133.9 338.0,133.8 338.6,134.2 339.2,134.5 339.8,135.2 340.4,135.3 341.0,135.5 341.6,135.1 342.2,135.6 342.8,134.8 343.4,134.4 344.0,134.1 344.6,133.6 345.2,133.2 345.8,133.2 346.4,133.3 347.0,133.1 347.6,132.9 348.2,132.4 348.8,132.2 349.4,132.7 350.0,132.5 350.6,132.9 351.2,133.1 351.8,133.3 352.4,132.7 353.0,132.9 353.6,133.1 354.2,133.5 354.8,133.6 355.4,134.4 356.0,134.1 356.6,134.8 357.2,134.8 357.8,134.6 358.4,134.0 359.0,134.2 359.6,134.0 360.2,134.3 360.8,134.7 361.4,135.0 362.0,135.1 362.6,135.1 363.2,134.3 363.8,134.6 364.4,135.0 365.0,135.0 365.6,135.2 366.2,134.8 366.8,135.0 367.4,134.3 368.0,134.7 368.6,135.2 369.2,135.5 369.8,135.3 370.4,135.3 371.0,134.7 371.6,134.5 372.2,134.8 372.8,134.4 373.4,134.3 374.0,134.0 374.6,134.4 375.2,134.7 375.8,134.4 376.4,134.4 377.0,134.7 377.6,134.3 378.2,134.3 378.8,134.2 379.4,134.6 380.0,134.7 380.6,134.8 381.2,134.1 381.8,134.1 382.4,133.0 383.0,132.7 383.6,133.0 384.2,133.1 384.8,133.4 385.4,133.8 386.0,134.1 386.6,133.9 387.2,134.5 387.8,135.0 388.4,135.0 389.0,135.1 389.6,134.5 390.2,134.3 390.8,134.3 391.4,134.4 392.0,134.3 392.6,134.7 393.2,134.0 393.8,134.3 394.4,133.8 395.0,133.8 395.6,133.7 396.2,133.8 396.8,133.6 397.4,133.6 398.0,134.5 398.6,134.6 399.2,134.5 399.8,134.6 400.4,134.3" fill="none" stroke="#ff14ff" stroke-width="1.95" stroke-linejoin="round"/>
<rect x="65.1" y="3.2" width="336.4" height="248.3" fill="none" stroke="#585858" stroke-width="1.5"/>
<path d="M65.1,251.5 V256.5 M107.1,251.5 V256.5 M149.2,251.5 V256.5 M191.2,251.5 V256.5 M233.3,251.5 V256.5 M275.4,251.5 V256.5 M317.4,251.5 V256.5 M359.5,251.5 V256.5 M401.5,251.5 V256.5 M86.1,251.5 V254.5 M128.2,251.5 V254.5 M170.2,251.5 V254.5 M212.3,251.5 V254.5 M254.3,251.5 V254.5 M296.4,251.5 V254.5 M338.4,251.5 V254.5 M380.5,251.5 V254.5" stroke="#585858" stroke-width="1.5" fill="none"/>
<g font-family="Liberation Sans, sans-serif" font-size="17" fill="#000" text-anchor="middle">
<text x="65.1" y="273.5">20</text>
<text x="107.1" y="273.5">25</text>
<text x="149.2" y="273.5">30</text>
<text x="191.2" y="273.5">35</text>
<text x="233.3" y="273.5">40</text>
<text x="275.4" y="273.5">45</text>
<text x="317.4" y="273.5">50</text>
<text x="359.5" y="273.5">55</text>
<text x="401.5" y="273.5">60</text>
</g>
<text x="177" y="299" font-family="Liberation Sans, sans-serif" font-size="21.8" fill="#000">2</text>
<text x="207.3" y="299" font-family="Liberation Sans, sans-serif" font-size="21.8" fill="#000">(degree)</text>
<path fill-rule="evenodd" fill="#000" d="M195.4,283.1 a5.1,8.4 0 1 0 0.001,0 Z M195.4,284.0 a3.0,7.5 0 1 0 0.001,0 Z"/>
<rect x="191.5" y="290.8" width="7.8" height="0.9" fill="#555"/>
<text transform="translate(17,187.4) rotate(-90)" font-family="Liberation Sans, sans-serif" font-size="21.6" fill="#000">Intensity (a.u.)</text>
<path d="M79.8,72.60000000000001 L84.1,76.9 L79.8,81.2 L75.5,76.9 Z" fill="#000"/>
<path d="M114.4,46.2 L118.7,50.5 L114.4,54.8 L110.10000000000001,50.5 Z" fill="#000"/>
<path d="M151.8,33.300000000000004 L156.10000000000002,37.6 L151.8,41.9 L147.5,37.6 Z" fill="#000"/>
<circle cx="173.4" cy="122.7" r="3.5" fill="#000"/>
<circle cx="188.5" cy="125.4" r="3.5" fill="#000"/>
<circle cx="206.9" cy="119.2" r="3.5" fill="#000"/>
<circle cx="299.8" cy="125.5" r="3.5" fill="#000"/>
<circle cx="379.3" cy="124.4" r="3.5" fill="#000"/>
<circle cx="150.5" cy="17.7" r="3.5" fill="#000"/>
<path d="M260.25,90.15 L268.95000000000005,90.15 L264.6,97.85 Z" fill="#000"/>
<path d="M323.34999999999997,115.75 L332.05,115.75 L327.7,123.44999999999999 Z" fill="#000"/>
<path d="M147.55,52.65 L156.25,52.65 L151.9,60.35 Z" fill="#000"/>
<g font-family="Liberation Sans, sans-serif" font-size="13.2" fill="#000">
<text x="167.8" y="22">Mg</text>
<text x="170.6" y="41.5">CNT</text>
<text x="170.6" y="60.5">Sample holder</text>
</g>
<g font-family="Liberation Sans, sans-serif" font-size="13" fill="#000">
<path d="M273,17.0 H304" stroke="#ff14ff" stroke-width="2"/>
<text x="307" y="21.5">10 mg ml<tspan font-size="7" dx="1.4" dy="-7" style="stroke-width:0.1px">-1</tspan><tspan dx="1.5" dy="7"> CNT</tspan></text>
<path d="M273,35.0 H304" stroke="#22f022" stroke-width="2"/>
<text x="307" y="39.5">5 mg ml<tspan font-size="7" dx="1.4" dy="-7" style="stroke-width:0.1px">-1</tspan><tspan dx="1.5" dy="7"> CNT</tspan></text>
<path d="M273,53.4 H304" stroke="#1414f0" stroke-width="2"/>
<text x="307" y="57.9">2 mg ml<tspan font-size="7" dx="1.4" dy="-7" style="stroke-width:0.1px">-1</tspan><tspan dx="1.5" dy="7"> CNT</tspan></text>
<path d="M273,71.6 H304" stroke="#ff1c1c" stroke-width="2"/>
<text x="307" y="76.1">1 mg ml<tspan font-size="7" dx="1.4" dy="-7" style="stroke-width:0.1px">-1</tspan><tspan dx="1.5" dy="7"> CNT</tspan></text>
<path d="M273,88.4 H304" stroke="#141414" stroke-width="2"/>
<text x="307" y="92.9">bare CNT</text>
</g>
<rect x="65.2" y="323.0" width="336.5" height="271.6" fill="none" stroke="#585858" stroke-width="1.5"/>
<path d="M65.2,594.6 V599.6 M126.4,594.6 V599.6 M187.6,594.6 V599.6 M248.7,594.6 V599.6 M309.9,594.6 V599.6 M371.1,594.6 V599.6 M95.8,594.6 V597.6 M157.0,594.6 V597.6 M218.2,594.6 V597.6 M279.3,594.6 V597.6 M340.5,594.6 V597.6 M401.7,594.6 V597.6 M65.2,594.6 H59.7 M65.2,517.0 H59.7 M65.2,439.4 H59.7 M65.2,361.8 H59.7 M65.2,555.8 H62.2 M65.2,478.2 H62.2 M65.2,400.6 H62.2 M65.2,323.0 H62.2" stroke="#585858" stroke-width="1.5" fill="none"/>
<g font-family="Liberation Sans, sans-serif" font-size="18" fill="#000" text-anchor="middle">
<text x="65.2" y="617.5">0</text>
<text x="126.4" y="617.5">2</text>
<text x="187.6" y="617.5">4</text>
<text x="248.7" y="617.5">6</text>
<text x="309.9" y="617.5">8</text>
<text x="371.1" y="617.5">10</text>
</g>
<g font-family="Liberation Sans, sans-serif" font-size="18" fill="#000" text-anchor="end">
<text x="56" y="601.1">0</text>
<text x="56" y="523.5">10</text>
<text x="56" y="445.9">20</text>
<text x="56" y="368.3">30</text>
</g>
<text x="102" y="648" font-family="Liberation Sans, sans-serif" font-size="23" fill="#000">Amount of CNT (mg mL<tspan font-size="13" dy="-11">-1</tspan><tspan dx="1.3" dy="11.5">)</tspan></text>
<text transform="translate(22.2,526) rotate(-90)" font-family="Liberation Sans, sans-serif" font-size="23.2" fill="#000">Mg (wt %)</text>
<path d="M92.0,340.2 93.7,348.0 95.4,355.3 97.2,362.2 98.9,368.5 100.6,374.3 102.3,379.7 104.1,384.8 105.8,389.7 107.5,394.2 109.2,398.5 111.0,402.6 112.7,406.5 114.4,410.3 116.1,413.9 117.8,417.4 119.6,420.7 121.3,423.9 123.0,427.1 124.7,430.1 126.5,433.0 128.2,435.9 129.9,438.6 131.6,441.3 133.4,443.9 135.1,446.5 136.8,449.0 138.5,451.4 140.3,453.8 142.0,456.1 143.7,458.4 145.4,460.6 147.1,462.7 148.9,464.8 150.6,466.9 152.3,468.9 154.0,470.9 155.8,472.8 157.5,474.7 159.2,476.5 160.9,478.4 162.7,480.1 164.4,481.9 166.1,483.5 167.8,485.2 169.5,486.8 171.3,488.4 173.0,490.0 174.7,491.5 176.4,493.0 178.2,494.4 179.9,495.9 181.6,497.3 183.3,498.6 185.1,500.0 186.8,501.3 188.5,502.6 190.2,503.8 191.9,505.1 193.7,506.3 195.4,507.5 197.1,508.6 198.8,509.7 200.6,510.9 202.3,511.9 204.0,513.0 205.7,514.0 207.5,515.1 209.2,516.1 210.9,517.0 212.6,518.0 214.4,518.9 216.1,519.9 217.8,520.8 219.5,521.6 221.2,522.5 223.0,523.3 224.7,524.2 226.4,525.0 228.1,525.8 229.9,526.5 231.6,527.3 233.3,528.0 235.0,528.8 236.8,529.5 238.5,530.2 240.2,530.9 241.9,531.5 243.6,532.2 245.4,532.8 247.1,533.5 248.8,534.1 250.5,534.7 252.3,535.3 254.0,535.9 255.7,536.4 257.4,537.0 259.2,537.5 260.9,538.0 262.6,538.6 264.3,539.1 266.1,539.6 267.8,540.1 269.5,540.5 271.2,541.0 272.9,541.5 274.7,541.9 276.4,542.4 278.1,542.8 279.8,543.2 281.6,543.6 283.3,544.0 285.0,544.4 286.7,544.8 288.5,545.2 290.2,545.6 291.9,545.9 293.6,546.3 295.3,546.6 297.1,547.0 298.8,547.4 300.5,547.8 302.2,548.2 304.0,548.6 305.7,549.0 307.4,549.4 309.1,549.8 310.9,550.1 312.6,550.4 314.3,550.7 316.0,551.0 317.7,551.2 319.5,551.4 321.2,551.6 322.9,551.8 324.6,552.0 326.4,552.1 328.1,552.3 329.8,552.4 331.5,552.6 333.3,552.7 335.0,552.9 336.7,553.0 338.4,553.1 340.2,553.2 341.9,553.3 343.6,553.3 345.3,553.4 347.0,553.5 348.8,553.5 350.5,553.6 352.2,553.6 353.9,553.7 355.7,553.7 357.4,553.7 359.1,553.8 360.8,553.8 362.6,553.8 364.3,553.8 366.0,553.8" fill="none" stroke="#1c1c9c" stroke-width="1.7" stroke-dasharray="3.6 3"/>
<path d="M96.0,435.0 97.7,439.6 99.5,444.1 101.2,448.3 102.9,452.4 104.6,456.2 106.4,459.9 108.1,463.4 109.8,466.7 111.6,469.9 113.3,473.0 115.0,476.0 116.8,478.8 118.5,481.5 120.2,484.1 121.9,486.6 123.7,489.1 125.4,491.4 127.1,493.6 128.9,495.8 130.6,497.9 132.3,499.9 134.1,501.9 135.8,503.8 137.5,505.6 139.2,507.4 141.0,509.1 142.7,510.7 144.4,512.4 146.2,513.9 147.9,515.5 149.6,516.9 151.3,518.4 153.1,519.8 154.8,521.2 156.5,522.5 158.3,523.8 160.0,525.1 161.7,526.3 163.5,527.5 165.2,528.7 166.9,529.8 168.6,531.0 170.4,532.1 172.1,533.2 173.8,534.2 175.6,535.2 177.3,536.2 179.0,537.2 180.7,538.2 182.5,539.1 184.2,540.1 185.9,541.0 187.7,541.9 189.4,542.8 191.1,543.6 192.9,544.5 194.6,545.3 196.3,546.1 198.0,546.9 199.8,547.7 201.5,548.4 203.2,549.2 205.0,549.9 206.7,550.6 208.4,551.4 210.2,552.1 211.9,552.7 213.6,553.4 215.3,554.1 217.1,554.7 218.8,555.4 220.5,556.0 222.3,556.6 224.0,557.2 225.7,557.8 227.4,558.4 229.2,559.0 230.9,559.6 232.6,560.2 234.4,560.7 236.1,561.2 237.8,561.8 239.6,562.3 241.3,562.8 243.0,563.3 244.7,563.8 246.5,564.3 248.2,564.8 249.9,565.3 251.7,565.8 253.4,566.2 255.1,566.7 256.8,567.1 258.6,567.6 260.3,568.0 262.0,568.4 263.8,568.8 265.5,569.2 267.2,569.6 269.0,570.0 270.7,570.4 272.4,570.8 274.1,571.2 275.9,571.6 277.6,572.0 279.3,572.3 281.1,572.7 282.8,573.0 284.5,573.4 286.3,573.7 288.0,574.0 289.7,574.4 291.4,574.7 293.2,575.0 294.9,575.4 296.6,575.7 298.4,576.1 300.1,576.5 301.8,576.9 303.5,577.2 305.3,577.6 307.0,578.0 308.7,578.4 310.5,578.7 312.2,579.0 313.9,579.2 315.7,579.5 317.4,579.7 319.1,579.9 320.8,580.1 322.6,580.3 324.3,580.5 326.0,580.7 327.8,580.9 329.5,581.0 331.2,581.2 332.9,581.4 334.7,581.5 336.4,581.7 338.1,581.8 339.9,581.9 341.6,582.0 343.3,582.1 345.1,582.2 346.8,582.3 348.5,582.4 350.2,582.5 352.0,582.6 353.7,582.7 355.4,582.7 357.2,582.8 358.9,582.8 360.6,582.9 362.4,582.9 364.1,582.9 365.8,583.0 367.5,583.0 369.3,583.0 371.0,583.0" fill="none" stroke="#1a1a1a" stroke-width="1.7" stroke-dasharray="3.6 3"/>
<rect x="90.55" y="333.35" width="10.3" height="10.3" fill="none" stroke="#2a2aa0" stroke-width="1.3"/>
<rect x="120.95" y="434.25" width="10.3" height="10.3" fill="none" stroke="#2a2aa0" stroke-width="1.3"/>
<rect x="212.95" y="518.75" width="10.3" height="10.3" fill="none" stroke="#2a2aa0" stroke-width="1.3"/>
<rect x="366.05" y="543.95" width="10.3" height="10.3" fill="none" stroke="#2a2aa0" stroke-width="1.3"/>
<rect x="90.05" y="423.65" width="11.3" height="11.3" fill="#000"/>
<rect x="120.45" y="491.35" width="11.3" height="11.3" fill="#000"/>
<rect x="212.45" y="549.85" width="11.3" height="11.3" fill="#000"/>
<rect x="365.65" y="575.55" width="11.3" height="11.3" fill="#000"/>
<rect x="290.85" y="337.2" width="10.3" height="10.3" fill="none" stroke="#2a2aa0" stroke-width="1.3"/>
<rect x="290.5" y="354.1" width="11.3" height="11.3" fill="#000"/>
<g font-family="Liberation Sans, sans-serif" font-size="13.9" fill="#000">
<text x="316.5" y="347.3">Theoratical</text>
<text x="316.5" y="364.6">Experimental</text>
</g>
</svg></body></html>
